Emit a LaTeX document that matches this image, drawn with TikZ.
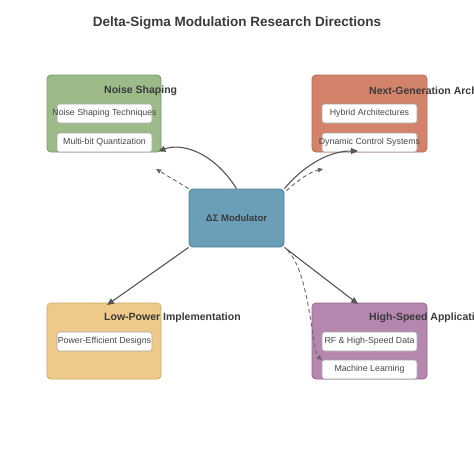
\documentclass[tikz,border=0pt]{standalone}
\usepackage{fontspec}
\setmainfont{Liberation Sans}
\usetikzlibrary{arrows.meta}
\definecolor{gfill}{HTML}{9CBB89}
\definecolor{gline}{HTML}{7A9A66}
\definecolor{ofill}{HTML}{D4836B}
\definecolor{oline}{HTML}{B56A55}
\definecolor{bfill}{HTML}{6A9FB7}
\definecolor{bline}{HTML}{4E8199}
\definecolor{yfill}{HTML}{EEC987}
\definecolor{yline}{HTML}{D0AA68}
\definecolor{pfill}{HTML}{B586AE}
\definecolor{pline}{HTML}{946590}
\definecolor{txt}{HTML}{3A3A3A}
\definecolor{intxt}{HTML}{484848}
\definecolor{conncol}{HTML}{555555}
\definecolor{dashcol}{HTML}{666666}
\begin{document}
\begin{tikzpicture}[x=1pt,y=-1pt,
  areabox/.style={draw, rounded corners=4pt, line width=0.8pt, inner sep=0pt, minimum width=114pt, minimum height=77pt},
  modbox/.style={draw=bline, fill=bfill, rounded corners=4pt, line width=0.8pt, inner sep=0pt, minimum width=95pt, minimum height=58pt},
  innerbox/.style={draw=gray!70, fill=white, rounded corners=2.5pt, line width=0.6pt, inner sep=0pt, minimum width=95pt, minimum height=19pt},
  innertext/.style={inner sep=0pt, text=intxt, font=\fontsize{8.8}{10}\selectfont},
  areatitle/.style={anchor=west, inner sep=0pt, text=txt, font=\bfseries\fontsize{10.5}{12}\selectfont},
  conn/.style={draw=conncol, line width=1.1pt, -{Triangle[length=7pt,width=6pt]}},
  dconn/.style={draw=dashcol, line width=0.9pt, dashed, dash pattern=on 4pt off 3pt, -{Triangle[length=5pt,width=4.5pt]}}
]
\useasboundingbox (0,0) rectangle (474,474);
\fill[white] (0,0) rectangle (474,474);

\node[font=\bfseries\fontsize{13.5}{16}\selectfont, text=txt] (title) at (237,23) {Delta-Sigma Modulation Research Directions};

% area boxes
\node[areabox, draw=gline, fill=gfill] (ns) at (104,113.5) {};
\node[areabox, draw=oline, fill=ofill, minimum width=115pt] (ng) at (369.5,113.5) {};
\node[areabox, draw=yline, fill=yfill, minimum height=76pt] (lp) at (104,341) {};
\node[areabox, draw=pline, fill=pfill, minimum width=115pt, minimum height=76pt] (hs) at (369.5,341) {};
\node[modbox] (mod) at (236.5,218) {};
\node[text=txt, font=\bfseries\fontsize{9.5}{11}\selectfont] (modt) at (mod) {ΔΣ Modulator};

% inner boxes
\node[innerbox] (ns1) at (104.5,113.5) {};
\node[innerbox] (ns2) at (104.5,142.5) {};
\node[innerbox] (ng1) at (369.5,113.5) {};
\node[innerbox] (ng2) at (369.5,142.5) {};
\node[innerbox] (lp1) at (104.5,341.5) {};
\node[innerbox] (hs1) at (369.5,341.5) {};
\node[innerbox] (hs2) at (369.5,369.5) {};

\node[innertext] (ns1t) at (ns1) {Noise Shaping Techniques};
\node[innertext] (ns2t) at (ns2) {Multi-bit Quantization};
\node[innertext] (ng1t) at (ng1) {Hybrid Architectures};
\node[innertext] (ng2t) at (ng2) {Dynamic Control Systems};
\node[innertext] (lp1t) at (lp1) {Power-Efficient Designs};
\node[innertext] (hs1t) at (hs1) {RF \& High-Speed Data};
\node[innertext] (hs2t) at (hs2) {Machine Learning};

% area titles
\node[areatitle] (nst) at (104,91) {Noise Shaping};
\node[areatitle] (ngt) at (369,91) {Next-Generation Architectures};
\node[areatitle] (lpt) at (104,318) {Low-Power Implementation};
\node[areatitle] (hst) at (369,318) {High-Speed Applications};

% connectors
\coordinate (nsend) at ([shift={(-3,-1)}]ns.south east);
\coordinate (ngend) at (358,151);
\coordinate (lpend) at (107,305);
\coordinate (hsend) at (358,304);
\coordinate (d1end) at (156,169);
\coordinate (d2end) at (323,169);
\coordinate (d3end) at (322,360);

\draw[conn] (mod.north) .. controls (212,150) and (180,143) .. (nsend);
\draw[conn] (mod.north east) .. controls (300,170) and (325,151) .. (ngend);
\draw[conn] (mod.south west) -- (lpend);
\draw[conn] (mod.south east) -- (hsend);
\draw[dconn] (mod.north west) -- (d1end);
\draw[dconn] ([shift={(2,2)}]mod.north east) .. controls (298,180) and (310,172) .. (d2end);
\draw[dconn] ([shift={(3,3)}]mod.south east) .. controls (310,272) and (312,352) .. (d3end);
\end{tikzpicture}
\end{document}
